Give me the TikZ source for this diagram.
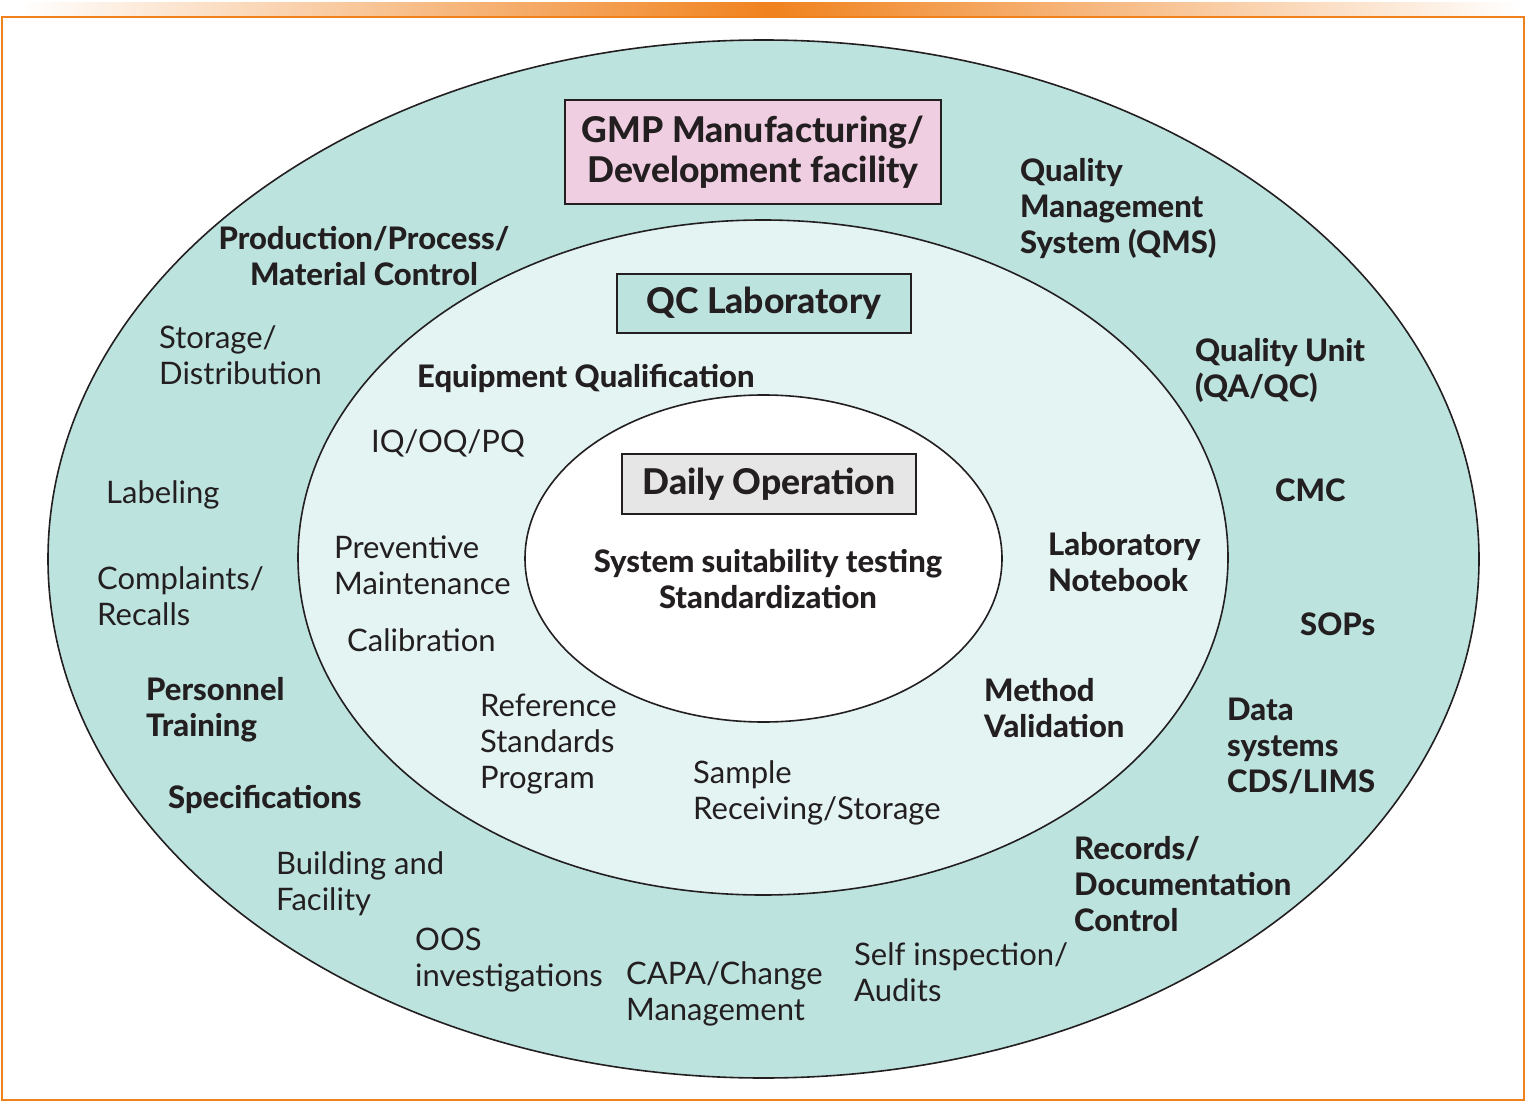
\documentclass[tikz,border=0pt]{standalone}
\usepackage{fontspec}
\setmainfont{Lato}[BoldFont={Lato Heavy}]
\usepackage{tikz}
\usetikzlibrary{positioning}
\definecolor{gmporange}{RGB}{240,130,30}
\definecolor{gmpteal}{RGB}{189,227,223}
\definecolor{gmplight}{RGB}{228,244,243}
\definecolor{gmppink}{RGB}{240,206,226}
\definecolor{gmpgray}{RGB}{230,230,230}
\definecolor{gmptext}{RGB}{35,31,32}

\begin{document}
\begin{tikzpicture}[x=1pt,y=-1pt,font=\fontsize{31}{36}\selectfont,
      ring/.style={draw=gmptext,line width=1.6pt},
      hdr/.style={draw=gmptext,line width=1.6pt,inner sep=0pt,align=center,
        text=gmptext,font=\fontsize{35.5}{40}\selectfont\bfseries},
      lbl/.style={anchor=west,inner sep=0pt,align=left,text=gmptext},
      blbl/.style={lbl,font=\fontsize{31}{36}\selectfont\bfseries}]
  \useasboundingbox (0,0) rectangle (1532,1107);
  % frame and top bar
  \shade[left color=white,right color=gmporange] (20,3) rectangle (770,16);
  \shade[left color=gmporange,right color=white] (770,3) rectangle (1520,16);
  \draw[gmporange,line width=1.2pt] (2,17) rectangle (1524,1100);
  % rings
  \draw[ring,fill=gmpteal] (763.5,559) ellipse [x radius=715.5,y radius=519];
  \draw[ring,fill=gmplight] (763,557.5) ellipse [x radius=465,y radius=337.5];
  \draw[ring,fill=white] (763.5,558.5) ellipse [x radius=238.5,y radius=163.5];
  % titles
  \node[hdr,fill=gmppink,minimum width=376,minimum height=104] (gmp) at (753,152)
    {GMP Manufacturing/\\Development facility};
  \node[hdr,fill=gmpteal,minimum width=294,minimum height=59] (qclab) at (764,303.5)
    {QC Laboratory};
  \node[hdr,fill=gmpgray,minimum width=294,minimum height=60] (daily) at (769,484)
    {Daily Operation};
  % outer ring
  \node[blbl,anchor=center,align=center] (prod) at (364,256)
    {Production/Process/\\Material Control};
  \node[lbl] (storage) at (159,355.5) {Storage/\\Distribution};
  \node[lbl] (labeling) at (106,495) {Labeling};
  \node[lbl] (complaints) at (97,596) {Complaints/\\Recalls};
  \node[blbl] (personnel) at (146,710) {Personnel\\Training};
  \node[blbl] (specs) at (168,799) {Specifications};
  \node[lbl] (building) at (276,884) {Building and\\Facility};
  \node[lbl] (oos) at (415,960.5) {OOS\\investigations};
  \node[lbl] (capa) at (626,994) {CAPA/Change\\Management};
  \node[lbl] (audits) at (854,972) {Self inspection/\\Audits};
  \node[blbl] (records) at (1074,884) {Records/\\Documentation\\Control};
  \node[blbl] (data) at (1227,746) {Data\\systems\\CDS/LIMS};
  \node[blbl] (sops) at (1300,624) {SOPs};
  \node[blbl] (cmc) at (1275,490) {CMC};
  \node[blbl] (qunit) at (1195,370) {Quality Unit\\(QA/QC)};
  \node[blbl] (qms) at (1020,209) {Quality\\Management\\System (QMS)};
  % middle ring
  \node[blbl] (equip) at (417,378) {Equipment Qualification};
  \node[lbl] (iqoq) at (371,443) {IQ/OQ/PQ};
  \node[lbl] (prevent) at (334,565) {Preventive\\Maintenance};
  \node[lbl] (calib) at (347,640) {Calibration};
  \node[lbl] (refstd) at (480,744) {Reference\\Standards\\Program};
  \node[lbl] (sample) at (693,793) {Sample\\Receiving/Storage};
  \node[blbl] (method) at (984,708) {Method\\Validation};
  \node[blbl] (notebook) at (1048,562) {Laboratory\\Notebook};
  % inner ring
  \node[blbl,anchor=center,align=center] (suit) at (768,579)
    {System suitability testing\\Standardization};
\end{tikzpicture}
\end{document}
